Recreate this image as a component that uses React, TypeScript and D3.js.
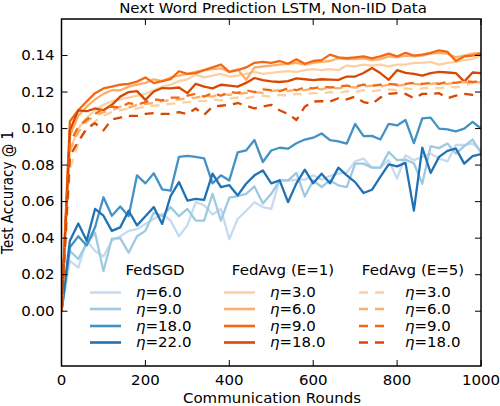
import React from 'react';
import * as d3 from 'd3';

const rounds = [
  0, 20, 40, 60, 80, 100, 120, 140, 160, 180, 200, 220, 240, 260, 280, 300, 320, 340, 360, 380, 400,
  420, 440, 460, 480, 500, 520, 540, 560, 580, 600, 620, 640, 660, 680, 700, 720, 740, 760, 780, 800,
  820, 840, 860, 880, 900, 920, 940, 960, 980, 1000,
];

// FedSGD
const sgd6 = [
  0, 0.0276, 0.0239, 0.0386, 0.033, 0.03, 0.0386, 0.041, 0.044, 0.045, 0.0478, 0.0505, 0.0533, 0.0496,
  0.041, 0.047, 0.0597, 0.058, 0.053, 0.056, 0.0395, 0.0505, 0.055, 0.0597, 0.057, 0.056, 0.072, 0.0715,
  0.072, 0.072, 0.0744, 0.072, 0.074, 0.0753, 0.076, 0.082, 0.0836, 0.0786, 0.0786, 0.0827, 0.0726,
  0.0854, 0.0827, 0.0845, 0.0863, 0.0836, 0.082, 0.091, 0.091, 0.0918, 0.088,
];
const sgd9 = [
  0, 0.033, 0.0286, 0.037, 0.043, 0.022, 0.0397, 0.04, 0.032, 0.041, 0.044, 0.054, 0.052, 0.057, 0.052,
  0.056, 0.0496, 0.0496, 0.0643, 0.0496, 0.0622, 0.063, 0.0643, 0.0683, 0.059, 0.0643, 0.0716, 0.0716,
  0.0757, 0.0628, 0.0716, 0.068, 0.0716, 0.0689, 0.068, 0.0808, 0.0808, 0.0786, 0.0786, 0.0872, 0.0827,
  0.083, 0.081, 0.0698, 0.0904, 0.0893, 0.0918, 0.0863, 0.0904, 0.094, 0.0867,
];
const sgd18 = [
  0, 0.035, 0.041, 0.036, 0.046, 0.0624, 0.0523, 0.0573, 0.052, 0.0744, 0.07, 0.0755, 0.0667, 0.066,
  0.0845, 0.085, 0.0845, 0.0837, 0.07, 0.0744, 0.0716, 0.087, 0.088, 0.0937, 0.0817, 0.088, 0.0895,
  0.089, 0.092, 0.094, 0.095, 0.0973, 0.0937, 0.093, 0.0918, 0.1025, 0.0959, 0.096, 0.094, 0.1026,
  0.1017, 0.1047, 0.092, 0.1056, 0.106, 0.1, 0.0996, 0.0985, 0.1, 0.1037, 0.1,
];
const sgd22 = [
  0, 0.0386, 0.048, 0.0386, 0.056, 0.0523, 0.044, 0.0459, 0.055, 0.047, 0.052, 0.057, 0.0478, 0.063,
  0.0707, 0.0606, 0.0615, 0.061, 0.0753, 0.068, 0.069, 0.0634, 0.0698, 0.0744, 0.0771, 0.07, 0.0716,
  0.0597, 0.07, 0.0775, 0.07, 0.0753, 0.07, 0.0786, 0.0744, 0.0707, 0.0647, 0.0665, 0.0735, 0.0804,
  0.0793, 0.0812, 0.0551, 0.0896, 0.0757, 0.0845, 0.0878, 0.0891, 0.0808, 0.0849, 0.086,
];

// FedAvg (E=1)
const avg1eta3 = [
  0, 0.088, 0.1, 0.106, 0.11, 0.113, 0.115, 0.116, 0.117, 0.118, 0.119, 0.121, 0.123, 0.124, 0.126,
  0.127, 0.1295, 0.128, 0.129, 0.13, 0.1285, 0.129, 0.13, 0.131, 0.13, 0.1305, 0.131, 0.1315, 0.131,
  0.132, 0.1325, 0.132, 0.1325, 0.132, 0.1345, 0.134, 0.135, 0.1345, 0.135, 0.134, 0.135, 0.135, 0.136,
  0.136, 0.1365, 0.135, 0.136, 0.1365, 0.1375, 0.138, 0.14,
];
const avg1eta6 = [
  0, 0.096, 0.107, 0.112, 0.116, 0.119, 0.121, 0.121, 0.123, 0.124, 0.125, 0.127, 0.126, 0.128, 0.129,
  0.13, 0.131, 0.132, 0.1325, 0.133, 0.131, 0.1325, 0.1267, 0.1335, 0.134, 0.1345, 0.135, 0.1355, 0.136,
  0.135, 0.136, 0.1365, 0.137, 0.1385, 0.138, 0.138, 0.1385, 0.1375, 0.138, 0.1395, 0.139, 0.14, 0.1395,
  0.14, 0.141, 0.1415, 0.141, 0.139, 0.14, 0.141, 0.1415,
];
const avg1eta9 = [
  0, 0.104, 0.11, 0.1148, 0.1194, 0.122, 0.123, 0.124, 0.1245, 0.1257, 0.128, 0.1249, 0.126, 0.1271,
  0.1314, 0.13, 0.1304, 0.132, 0.1335, 0.135, 0.131, 0.132, 0.1335, 0.136, 0.1365, 0.136, 0.137, 0.1355,
  0.1379, 0.1355, 0.137, 0.1375, 0.1405, 0.139, 0.1385, 0.139, 0.1395, 0.1385, 0.1395, 0.141, 0.1395,
  0.1415, 0.14, 0.1405, 0.1415, 0.1428, 0.142, 0.137, 0.1395, 0.14, 0.141,
];
const avg1eta18 = [
  0, 0.099, 0.11, 0.1095, 0.111, 0.11, 0.113, 0.1175, 0.12, 0.1205, 0.1157, 0.1203, 0.1222, 0.122,
  0.1225, 0.1194, 0.1245, 0.123, 0.122, 0.124, 0.1235, 0.123, 0.125, 0.1277, 0.1265, 0.1258, 0.1255,
  0.126, 0.1275, 0.127, 0.1265, 0.127, 0.1268, 0.1267, 0.1285, 0.1285, 0.1304, 0.1332, 0.1304, 0.1267,
  0.132, 0.1305, 0.13, 0.129, 0.1304, 0.131, 0.1307, 0.1304, 0.1257, 0.1307, 0.1304,
];

// FedAvg (E=5)
const avg5eta3 = [
  0, 0.078, 0.092, 0.1, 0.104, 0.107, 0.109, 0.11, 0.111, 0.111, 0.112, 0.1125, 0.113, 0.1135, 0.114,
  0.1145, 0.115, 0.115, 0.116, 0.1155, 0.1165, 0.117, 0.1165, 0.1175, 0.118, 0.1175, 0.1185, 0.118,
  0.119, 0.1185, 0.1195, 0.119, 0.12, 0.1195, 0.1205, 0.12, 0.121, 0.1205, 0.121, 0.1215, 0.121, 0.122,
  0.1215, 0.122, 0.1225, 0.122, 0.123, 0.1225, 0.1235, 0.125, 0.127,
];
const avg5eta6 = [
  0, 0.088, 0.098, 0.104, 0.107, 0.109, 0.11, 0.112, 0.1115, 0.113, 0.1135, 0.114, 0.115, 0.1155, 0.116,
  0.1165, 0.117, 0.118, 0.1175, 0.119, 0.1185, 0.119, 0.1195, 0.12, 0.1195, 0.1205, 0.121, 0.1205,
  0.1215, 0.121, 0.122, 0.1215, 0.1225, 0.122, 0.123, 0.1225, 0.123, 0.1235, 0.123, 0.124, 0.1235, 0.124,
  0.1245, 0.124, 0.1245, 0.125, 0.1245, 0.125, 0.1255, 0.125, 0.1255,
];
const avg5eta9 = [
  0, 0.092, 0.101, 0.105, 0.108, 0.111, 0.112, 0.1115, 0.114, 0.113, 0.1145, 0.116, 0.1155, 0.117, 0.117,
  0.118, 0.119, 0.1175, 0.1195, 0.118, 0.12, 0.1195, 0.121, 0.12, 0.1215, 0.121, 0.1205, 0.122, 0.121,
  0.1225, 0.122, 0.123, 0.1225, 0.123, 0.1235, 0.123, 0.124, 0.1235, 0.124, 0.1245, 0.124, 0.1245, 0.125,
  0.1245, 0.125, 0.1245, 0.1255, 0.125, 0.126, 0.1255, 0.126,
];
const avg5eta18 = [
  0, 0.085, 0.093, 0.1, 0.103, 0.099, 0.105, 0.106, 0.107, 0.107, 0.108, 0.1085, 0.108, 0.108, 0.109,
  0.108, 0.111, 0.1075, 0.112, 0.1125, 0.113, 0.114, 0.1125, 0.111, 0.112, 0.113, 0.11, 0.108, 0.1047,
  0.112, 0.1148, 0.115, 0.1148, 0.1166, 0.116, 0.1175, 0.1145, 0.1135, 0.117, 0.119, 0.1194, 0.119,
  0.1166, 0.119, 0.119, 0.1194, 0.1166, 0.118, 0.119, 0.1185, 0.118,
];

const sgdLabels = ['6.0', '9.0', '18.0', '22.0'];
const avg1Labels = ['3.0', '6.0', '9.0', '18.0'];
const avg5Labels = ['3.0', '6.0', '9.0', '18.0'];
const blues = ['#c6dbef', '#9ecae1', '#4292c6', '#2171b5'];
const oranges = ['#fdd0a2', '#fdae6b', '#f16913', '#d94801'];
const xTicks = [0, 200, 400, 600, 800, 1000];
const yTicks = [0, 0.02, 0.04, 0.06, 0.08, 0.1, 0.12, 0.14];

const W = 500;
const H = 406;
const left = 61.5;
const right = 481;
const top = 19;
const bottom = 366;
const FONT = 'DejaVu Sans, sans-serif';
const SQ = 0.9; // vertical squeeze of the original picture

const groups = [
  { title: 'FedSGD', series: [sgd6, sgd9, sgd18, sgd22], labels: sgdLabels, colors: blues, dash: null },
  { title: 'FedAvg (E=1)', series: [avg1eta3, avg1eta6, avg1eta9, avg1eta18], labels: avg1Labels, colors: oranges, dash: null },
  { title: 'FedAvg (E=5)', series: [avg5eta3, avg5eta6, avg5eta9, avg5eta18], labels: avg5Labels, colors: oranges, dash: '9,7' },
];

const T = ({ x, y, anchor = 'start', children, size = 15 }: any) => (
  <text
    transform={`translate(${x},${y}) scale(1,${SQ})`}
    fontFamily={FONT}
    fontSize={size}
    textAnchor={anchor}
    fill="#000"
  >
    {children}
  </text>
);

export default function App() {
  const x = d3.scaleLinear().domain([0, 1000]).range([left, right]);
  const y = d3.scaleLinear().domain([-0.03, 0.16]).range([bottom, top]);
  const line = d3
    .line<number>()
    .x((_, i) => x(rounds[i]))
    .y((d) => y(d));

  const legendX = [90, 224, 359];
  const legendHeaderX = [155, 283, 413];
  const rowY = [292.5, 309, 326, 342.5];

  return (
    <svg width={W} height={H} style={{ position: 'absolute', left: 0, top: 0, background: '#fff' }}>
      <defs>
        <clipPath id="plot">
          <rect x={left} y={top} width={right - left} height={bottom - top} />
        </clipPath>
      </defs>
      <rect x={0} y={0} width={W} height={H} fill="#fff" />

      <g clipPath="url(#plot)" fill="none" strokeLinejoin="round">
        {groups.map((g, gi) =>
          g.series.map((s, si) => (
            <path
              key={`${gi}-${si}`}
              d={line(s) || ''}
              stroke={g.colors[si]}
              strokeWidth={2.3}
              strokeDasharray={g.dash || undefined}
            />
          ))
        )}
      </g>

      {/* frame */}
      <rect x={left} y={top} width={right - left} height={bottom - top} fill="none" stroke="#000" strokeWidth={1.5} />

      {/* ticks */}
      {xTicks.map((t) => (
        <g key={`xt${t}`}>
          <line x1={x(t)} x2={x(t)} y1={bottom} y2={bottom - 6} stroke="#000" strokeWidth={1} />
          <line x1={x(t)} x2={x(t)} y1={top} y2={top + 6} stroke="#000" strokeWidth={1} />
          <T x={x(t)} y={384.5} anchor="middle">{t}</T>
        </g>
      ))}
      {yTicks.map((t) => (
        <g key={`yt${t}`}>
          <line x1={left} x2={left + 6} y1={y(t)} y2={y(t)} stroke="#000" strokeWidth={1} />
          <line x1={right} x2={right - 6} y1={y(t)} y2={y(t)} stroke="#000" strokeWidth={1} />
          <T x={54.5} y={y(t) + 4.6} anchor="end">{t.toFixed(2)}</T>
        </g>
      ))}

      <T x={273} y={12.5} anchor="middle">Next Word Prediction LSTM, Non-IID Data</T>
      <T x={272} y={402.5} anchor="middle">Communication Rounds</T>
      <text
        transform={`translate(12.5,${(top + bottom) / 2}) rotate(-90) scale(${SQ},1)`}
        fontFamily={FONT}
        fontSize={15}
        textAnchor="middle"
      >
        Test Accuracy @ 1
      </text>

      {/* legend */}
      {groups.map((g, gi) => (
        <g key={`lg${gi}`}>
          <T x={legendHeaderX[gi]} y={275} anchor="middle">{g.title}</T>
          {g.labels.map((lab, li) => (
            <g key={lab}>
              <line
                x1={legendX[gi]}
                x2={legendX[gi] + 31}
                y1={rowY[li]}
                y2={rowY[li]}
                stroke={g.colors[li]}
                strokeWidth={2.6}
                strokeDasharray={g.dash || undefined}
              />
              <T x={legendX[gi] + 46} y={rowY[li] + 4.8}>
                <tspan fontStyle="italic">η</tspan>={lab}
              </T>
            </g>
          ))}
        </g>
      ))}
    </svg>
  );
}
